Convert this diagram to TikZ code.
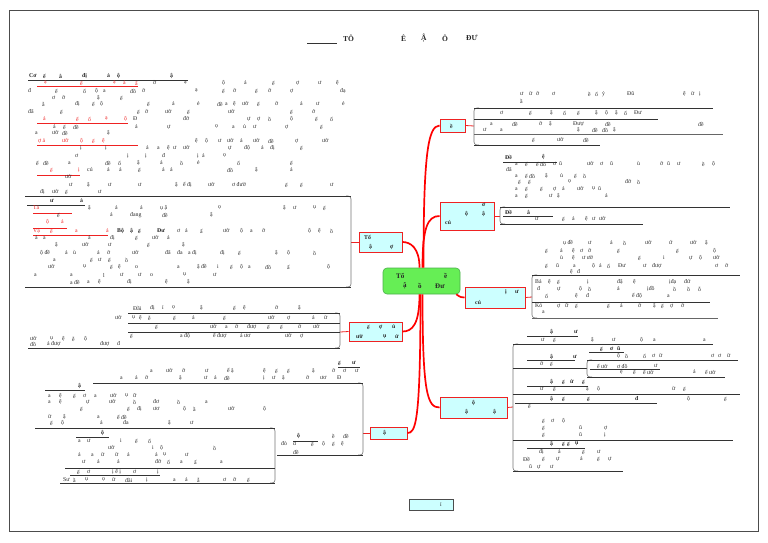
\documentclass[tikz,border=0pt]{standalone}
\usepackage{fontspec}
\setmainfont{Liberation Serif}
\definecolor{ncyan}{HTML}{CCFFFF}
\definecolor{nred}{HTML}{EE2222}
\definecolor{cgreen}{HTML}{66EE55}
\definecolor{ulc}{HTML}{333333}
\newcommand\trow[3][tx]{\foreach \xq/\tq in {#3}{\node[#1] (w\xq y#2) at (\xq,#2) {\tq};}}
\begin{document}
\begin{tikzpicture}[x=1pt,y=-1pt,
  tx/.style={anchor=west,inner sep=0pt,font=\fontsize{5.8}{6.5}\selectfont,text=black!85},
  txr/.style={tx,text=nred},
  txb/.style={tx,font=\fontsize{5.8}{6.5}\selectfont\bfseries},
  txc/.style={tx,font=\fontsize{7}{8}\selectfont\bfseries},
  ttl/.style={tx,font=\fontsize{7.5}{8}\selectfont\bfseries},
  bnode/.style={draw=nred,line width=0.9pt,fill=ncyan,inner sep=0pt},
  cnode/.style={draw=green!55!black!70,line width=0.6pt,fill=cgreen,rounded corners=4pt,inner sep=0pt,minimum width=77pt,minimum height=26pt},
  conn/.style={draw=red,line width=1.7pt},
  rcon/.style={draw=nred,line width=0.8pt},
  ul/.style={draw=ulc,line width=0.9pt},
  ulg/.style={draw=black!60,line width=0.9pt},
  rul/.style={draw=nred,line width=0.8pt},
  brk/.style={draw=black!55,line width=0.6pt,rounded corners=3pt}]
\useasboundingbox (0,0) rectangle (768,543);
\draw[black!70,line width=0.6pt] (9,10) rectangle (758,531);

% title
\draw[ul] (307,43) -- (337,43);
\trow[ttl]{38}{343/TÔ, 401/Ê, 421/Ậ, 442/Ô, 466/ĐƯ}

% central and branch nodes
\node[cnode] (c) at (421.5,281) {};
\node[bnode,minimum width=25pt,minimum height=13pt] (n1) at (452.5,125.5) {};
\node[bnode,minimum width=54pt,minimum height=28pt] (n2) at (467,216) {};
\node[bnode,minimum width=60pt,minimum height=21pt] (n3) at (495,297.5) {};
\node[bnode,minimum width=67pt,minimum height=21pt] (n4) at (473.5,407.5) {};
\node[bnode,minimum width=37pt,minimum height=12pt] (n5) at (388.5,433) {};
\node[bnode,minimum width=53pt,minimum height=19pt] (n6) at (375.5,331.5) {};
\node[bnode,minimum width=43pt,minimum height=20pt] (n7) at (380.5,242) {};
\node[draw=black!70,line width=0.8pt,fill=ncyan,inner sep=0pt,minimum width=44pt,minimum height=11pt] (foot) at (431,504.5) {};

% connectors
\draw[conn] ([xshift=2pt]c.north) .. controls +(0,-110) and +(-12,0) .. (n1.west);
\draw[conn] ([xshift=1pt]c.north) .. controls +(0,-40) and +(-12,0) .. (n2.west);
\draw[conn] ([xshift=-2pt]c.north) .. controls +(0,-20) and +(8,0) .. (n7.east);
\draw[conn] ([xshift=-4pt]c.south east) .. controls +(4,3) and +(-3,0) .. (n3.west);
\draw[conn] ([xshift=-2pt]c.south) .. controls +(0,30) and +(10,0) .. (n6.east);
\draw[conn] ([xshift=-1pt]c.south) .. controls +(0,130) and +(8,0) .. (n5.east);
\draw[conn] ([xshift=1pt]c.south) .. controls +(0,100) and +(-12,0) .. (n4.west);

% node texts
\trow[txc]{276}{396/Tổ, 444/ề}
\trow[txc]{286}{403/ậ, 418/ồ, 435/Đư}
\trow[txb]{126}{450/ề}
\trow[txb]{205}{482/ơ}
\trow[txb]{214}{465/ộ, 482/ậ}
\trow[txb]{223}{445/cú}
\trow[txb]{292}{505/ị, 515/ư}
\trow[txb]{303}{475/cú}
\trow[txb]{403}{472/ộ}
\trow[txb]{412}{465/ậ, 493/ậ}
\trow[txb]{433}{383/ậ}
\trow[txb]{327}{367/ế, 379/ợ, 392/ủ}
\trow[txb]{337}{356/ườ, 383/ụ, 395/ử}
\trow[txb]{237}{364/Tổ}
\trow[txb]{247}{369/ậ, 390/ợ}
\trow{505}{440/ỉ}

% ===== branch 1 block
\coordinate (b1) at (474,126);
\draw[rcon] (n1.east) -- (b1);
\draw[brk] (479,108) -- (474,108) -- (474,145) -- (479,145);
\draw[ul] (474,108) -- (713,108);
\draw[ul] (474,119) -- (658,119);
\draw[ulg] (474,134) -- (723,134);
\draw[ul] (474,145) -- (600,145);
\trow{94}{520/ư, 529/ừ, 536/ờ, 552/ơ, 588/ề, 595/ổ, 602/ỷ, 627/Đũ, 683/ệ, 691/ừ, 699/ị}
\trow{101}{520/ầ}
\trow{113}{500/ơ, 529/ể, 550/ậ, 563/ổ, 577/ể, 595/ậ, 605/ộ, 615/ậ, 624/ổ, 634/Đư}
\trow{124}{490/a, 512/đề, 539/ờ, 549/ậ, 573/Đượ, 605/đề, 698/đề}
\trow{130}{483/ư, 500/a, 577/ậ, 592/đề, 602/đồ, 613/ậ}
\trow{140}{532/ể, 557/ườ, 583/đề}

% ===== branch 2 block
\coordinate (b2) at (500,216);
\draw[rcon] (n2.east) -- (b2);
\draw[brk] (505,207) -- (500,207) -- (500,224) -- (505,224);
\draw[ul] (500,207) -- (730,207);
\draw[ul] (500,224) -- (643,224);
\draw[ul] (503,162) -- (557,162);
\draw[ul] (503,216) -- (553,216);
\trow[txb]{157}{505/Đề, 542/ệ}
\trow{164}{515/a, 525/ể, 536/ể đồ, 553/ơ, 559/ũ, 587/ườ, 600/ơ, 610/ũ, 637/ù, 660/ờ, 667/ũ, 677/ư, 702/ề, 712/ộ}
\trow{170}{506/đã}
\trow{176}{515/a, 525/ể đồ, 545/ậ, 560/ủ, 574/ể, 583/ồ}
\trow{182}{518/ể, 528/ể, 568/ọ, 625/đờ, 637/ồ}
\trow{189}{515/a, 525/ể, 540/ể, 553/ợ, 562/ả, 577/ườ, 592/ụ, 598/ũ}
\trow{196}{515/a, 525/ể, 549/ư, 557/ậ, 605/ả}
\trow[txb]{212}{505/Đề, 527/ắ}
\trow{219}{535/ư, 562/ể, 572/ả, 585/ệ, 592/ư, 599/ườ}

% ===== branch 3 block
\coordinate (b3) at (532,297);
\draw[rcon] (n3.east) -- (b3);
\draw[brk] (537,275) -- (532,275) -- (532,318) -- (537,318);
\draw[ul] (532,275) -- (740,275);
\draw[ul] (532,302) -- (710,302);
\draw[ulg] (532,318) -- (718,318);
\trow{243}{563/ụ đề, 588/ư, 610/ả, 623/ồ, 645/ườ, 669/ứ, 690/ườ, 705/ậ}
\trow{251}{545/ể, 560/ả, 572/ệ, 580/ơ, 588/ờ, 617/ể, 676/ể, 713/ộ}
\trow{258}{560/ù, 572/ệ, 582/ư ườ, 638/ể, 663/i, 689/ự, 699/ộ, 713/ườ}
\trow{266}{545/ể, 556/ũ, 573/a, 592/ộ, 599/ả, 607/ổ, 618/Đư, 643/ư, 652/đượ, 715/ơ, 725/ờ}
\trow{272}{570/ệ, 577/đ}
\trow{282}{535/Bả, 548/ệ, 557/ể, 587/ị, 617/đậ, 633/ệ, 669/ịđạ, 684/đứ}
\trow{289}{537/đ, 557/ự, 579/ộ, 588/ồ, 617/ả, 647/ịđồ, 673/ồ, 687/ồ, 698/ỗ}
\trow{296}{545/ổ, 575/ệ, 586/đ, 632/ể độ, 667/a}
\trow{306}{535/Kỏ, 557/ợ, 565/ữ, 575/ể, 607/ể, 620/ả, 638/ờ, 653/ậ, 661/ể, 670/ợ, 681/ờ}
\trow{312}{542/a}

% ===== branch 4 block
\coordinate (b4) at (513,407);
\draw[rcon] (n4.east) -- (b4);
\draw[brk] (518,344) -- (513,344) -- (513,471) -- (518,471);
\draw[ul] (513,344) -- (713,344);
\draw[ul] (513,368) -- (587,368);
\draw[ul] (513,394) -- (740,394);
\draw[ul] (513,440) -- (733,440);
\draw[ul] (513,471) -- (623,471);
\draw[ul] (527,336) -- (578,336);
\draw[ul] (527,360) -- (575,360);
\draw[ul] (527,386) -- (588,386);
\draw[ul] (515,403) -- (657,403);
\draw[ul] (527,448) -- (585,448);
\draw[brk] (592,360) -- (587,360) -- (587,377) -- (592,377);
\draw[ul] (587,360) -- (738,360);
\draw[ul] (587,377) -- (725,377);
\draw[ul] (589,352) -- (624,352);
\draw[ul] (590,369) -- (660,369);
\trow[txb]{332}{550/ậ, 574/ư}
\trow{340}{541/ư, 553/ể, 591/ậ, 612/ư, 640/ộ, 653/a, 703/a}
\trow[txb]{357}{550/ậ, 573/ư}
\trow{364}{540/ờ, 550/ể}
\trow[txb]{349}{600/ể, 610/ơ, 617/ũ}
\trow{356}{617/ộ, 625/ồ, 643/ổ, 652/ơ, 659/ừ, 711/ơ, 718/ơ, 727/ừ}
\trow{366}{597/ể ườ, 617/ơ đồ, 654/ư}
\trow{372}{620/ệ, 633/ể, 643/ể ườ, 693/ả, 705/ể ườ}
\trow[txb]{382}{550/ậ, 562/ể, 570/ừ, 582/ể}
\trow{389}{540/ư, 553/ể, 586/ậ, 597/ộ, 672/ừ, 683/ể}
\trow[txb]{399}{550/ậ, 562/ể, 587/ể, 635/đ}
\trow{399}{687/ộ, 724/ể}
\trow{406}{528/ể}
\trow{421}{542/ể, 551/ơ, 562/ộ}
\trow{428}{542/ể, 579/ũ, 604/ợ}
\trow{435}{542/ể, 579/ũ, 604/ị}
\trow[txb]{444}{550/ậ, 562/ể, 567/ể, 575/ụ}
\trow{452}{539/đị, 558/ả, 582/ể, 597/ư}
\trow{459}{523/Đề, 542/ể, 556/ự, 580/ả, 597/ể, 608/ự}
\trow{467}{529/ũ, 537/ự, 550/ư}

% ===== branch 5 block
\coordinate (b5) at (363,433);
\draw[rcon] (n5.west) -- (b5);
\draw[brk] (358,383) -- (363,383) -- (363,455) -- (358,455);
\draw[ul] (93,383) -- (363,383);
\draw[ul] (277,455) -- (363,455);
\draw[ul] (338,367) -- (360,367);
\draw[ul] (293,441) -- (318,441);
\draw[brk] (270,428) -- (275,428) -- (275,483) -- (270,483);
\draw[ul] (35,428) -- (275,428);
\draw[ul] (65,468) -- (275,468);
\draw[ul] (60,483) -- (275,483);
\draw[ul] (45,390) -- (85,390);
\draw[ul] (76,437) -- (109,437);
\draw[ul] (70,475) -- (160,475);
\trow[txb]{363}{338/ể, 352/ư}
\trow{371}{150/a, 166/ườ, 182/ờ, 205/ư, 227/ể ặ, 263/ệ, 275/ế, 287/ể, 312/ặ, 332/ờ, 343/ơ, 355/ư}
\trow{378}{120/a, 135/ả, 145/ờ, 179/ặ, 204/ư, 214/ả, 224/đề, 263/ị, 272/ư, 282/ặ, 306/ờ, 320/ươ, 337/Đ}
\trow[txb]{386}{78/ậ}
\trow{396}{48/a, 59/ệ, 73/ể, 83/ơ, 94/a, 110/ườ, 125/ụ, 133/ữ}
\trow{402}{48/a, 59/ệ, 86/ự, 109/ườ, 133/ồ, 153/đơ, 177/ồ, 205/a}
\trow{409}{80/ể, 127/ể, 137/đị, 153/ươ, 183/ộ, 193/ầ, 228/ườ, 263/ộ}
\trow{417}{48/ừ, 63/ậ, 97/a, 117/ể đề}
\trow{423}{50/ể, 61/ộ, 100/ả, 123/đa, 168/ậ, 190/ư}
\trow[txb]{433}{101/ộ}
\trow{441}{78/a, 87/ư, 120/i, 135/ể, 148/ổ}
\trow{448}{108/ườ, 152/i, 160/ộ, 213/ồ}
\trow{455}{78/ả, 91/a, 101/ừ, 115/ừ, 127/ả, 155/ả, 163/ụ, 185/ư}
\trow{462}{82/ư, 97/ả, 117/ả, 155/đờ, 167/ổ, 180/a, 194/ấ, 220/a}
\trow{472}{77/ể, 87/ơ, 112/ị ể ị, 133/ơ, 157/ị}
\trow{480}{63/Sư, 73/ầ, 85/ụ, 102/ọ, 112/ừ, 125/đầi, 146/ị, 173/a, 185/ả, 197/ẫ, 223/ơ, 233/ờ, 247/ể}
\trow[txb]{436}{297/ộ}
\trow{436}{332/ề, 343/đề}
\trow{444}{281/đò, 293/đ, 311/ể, 322/ộ, 332/ể, 341/ệ}
\trow{452}{293/đề}

% ===== branch 6 block
\coordinate (b6) at (340,332);
\draw[rcon] (n6.west) -- (b6);
\draw[brk] (335,313) -- (340,313) -- (340,348) -- (335,348);
\draw[ul] (128,313) -- (340,313);
\draw[ul] (128,323) -- (340,323);
\draw[ul] (128,332) -- (340,332);
\draw[ul] (28,348) -- (340,348);
\trow{308}{133/Đầi, 150/đị, 162/ỉ, 172/ọ, 200/ậ, 233/ể, 243/ệ, 275/ờ, 298/ậ}
\trow{318}{115/ườ, 132/ụ, 139/ệ, 148/ễ, 173/ể, 192/ả, 223/ể, 268/ườ, 287/ợ, 312/ả, 324/ừ}
\trow{327}{155/ể, 210/ườ, 225/a, 235/ờ, 247/đượ, 267/ể, 280/ể, 298/ờ, 313/ườ}
\trow{336}{130/ể, 180/a độ, 213/ể đượ, 240/ả ươ, 285/ườ, 300/ợ}
\trow{339}{30/ườ, 50/ụ, 62/ệ, 72/ễ, 84/ộ}
\trow{344}{30/đồ, 47/ả đượ, 100/đượ, 117/đ}

% ===== branch 7 block
\coordinate (b7) at (351,242);
\draw[rcon] (n7.west) -- (b7);
\draw[brk] (346,196) -- (351,196) -- (351,287) -- (346,287);
\draw[ul] (25,196) -- (351,196);
\draw[ul] (25,287) -- (351,287);
\draw[ul] (28,80) -- (188,80);
\draw[ul] (27,205) -- (85,205);
\draw[rul] (37,86) -- (138,86);
\draw[rul] (37,123) -- (128,123);
\draw[rul] (37,145) -- (138,145);
\draw[rul] (37,175) -- (80,175);
\draw[rul] (33,213) -- (72,213);
\draw[rul] (33,228) -- (67,228);
\draw[rul] (33,235) -- (108,235);
\trow[txb]{76}{29/Cơ, 43/ế, 59/ằ, 82/đị, 107/ả, 117/ộ, 170/ậ}
\trow[txr]{83}{44/ạ, 80/ể, 113/ạ, 123/ả, 135/ấ}
\trow{83}{153/ờ, 184/ạ, 222/ộ, 244/ả, 272/ể, 296/ợ, 318/ư, 336/ệ}
\trow{91}{28/đ, 55/ể, 83/ổ, 95/ộ, 103/a, 130/đồ, 142/ờ, 195/ạ, 222/ể, 233/ờ, 255/ể, 268/ờ, 290/ợ, 340/đạ}
\trow{98}{52/ơ, 62/ờ, 97/ậ, 120/ể}
\trow{104}{42/ằ, 75/đị, 92/ể, 100/ộ, 147/ể, 172/ả, 197/ẻ, 217/đề, 225/a, 233/ệ, 242/ườ, 257/ể, 275/ờ, 300/ả, 316/ư, 342/ẻ}
\trow{112}{28/đã, 60/ể, 137/ể, 145/ờ, 165/ườ, 187/ể, 228/ườ, 290/ể, 312/ở}
\trow[txr]{119}{43/ả, 76/ể, 88/ổ, 105/ạ, 124/ộ}
\trow{119}{133/Đ, 183/đờ, 247/ự, 257/ợ, 268/ồ, 290/ộ, 315/ể, 330/ổ}
\trow{127}{53/ả, 63/ể, 73/đề, 135/ả, 167/ự, 215/ọ, 232/a, 243/ủ, 253/ư, 285/ợ, 320/ể}
\trow{133}{35/a, 52/ườ, 62/đề, 107/ậ}
\trow[txr]{141}{38/ợ ả, 62/ườ, 80/ộ, 92/ể, 102/ệ}
\trow{141}{195/ệ, 205/ộ, 218/ư, 227/ườ, 240/ả, 253/ườ, 268/đề, 295/ợ, 322/ườ}
\trow{148}{80/ị, 105/ị, 146/ả, 157/a, 167/ệ, 173/ư, 183/ườ, 228/ự, 244/độ, 261/ả, 270/đị, 300/ể}
\trow{156}{75/ơ, 127/ị, 145/ị, 162/đ, 197/ị, 202/ả, 223/ọ}
\trow{163}{36/ể, 43/đề, 68/a, 105/đề, 118/ổ, 137/ậ, 160/ả, 180/ồ, 197/ẻ, 237/ổ, 290/ể}
\trow[txr]{170}{50/ể, 78/ị}
\trow{170}{87/cú, 107/ả, 119/ả, 138/ể, 162/ả, 170/ả, 227/đồ, 255/ậ, 290/ả}
\trow{177}{65/ườ}
\trow{185}{69/ư, 87/ậ, 108/ư, 138/ư, 175/ậ, 183/ể đị, 208/ườ, 232/ơ đườ, 285/ể, 300/ể, 330/ư}
\trow{192}{40/đị, 52/ườ, 65/ể, 98/ư}
\trow[txb]{201}{50/ư, 80/ả}
\trow[txr]{208}{33/Tả}
\trow{208}{88/ậ, 115/ả, 140/ả, 160/ụ ậ, 218/ọ, 283/ậ, 293/ư, 313/ụ, 323/ể}
\trow{215}{57/ể, 110/ả, 130/đang, 162/đề, 210/ậ}
\trow[txr]{222}{46/ộ, 61/ả}
\trow[txr]{231}{33/Vậ, 50/ể, 75/a, 106/ả}
\trow[txb]{231}{117/Bộ, 130/ậ, 138/ể, 157/Đư}
\trow{231}{177/ơ, 185/ả, 200/ấ, 223/ườ, 240/ộ, 250/a, 262/ờ, 308/ộ, 318/ệ, 330/ồ}
\trow{238}{35/ả, 43/a, 88/ả, 110/đị, 135/ể, 152/ườ, 167/ả}
\trow{245}{55/ậ, 82/ườ, 108/ư, 147/ể, 182/ậ}
\trow{253}{40/ộ đề, 65/ả, 73/ù, 97/ả, 107/ờ, 132/ườ, 165/đã, 177/đa, 188/a đị, 220/đị, 238/ể, 275/ậ, 287/ộ, 313/ồ}
\trow{260}{53/a, 90/ể, 98/ư, 108/ể, 125/ồ}
\trow{267}{48/ườ, 83/ụ, 110/ể, 118/ệ, 135/o, 177/a, 197/ậ đề, 217/i, 230/ể, 240/ộ, 248/a, 265/đồ, 287/ấ, 327/ộ}
\trow{275}{34/a, 70/a, 103/l, 120/ư, 138/ư, 150/o, 183/ụ, 213/ư}
\trow{282}{70/a đề, 87/a, 98/ệ, 127/đị, 165/ệ, 187/ậ}
\end{tikzpicture}
\end{document}
